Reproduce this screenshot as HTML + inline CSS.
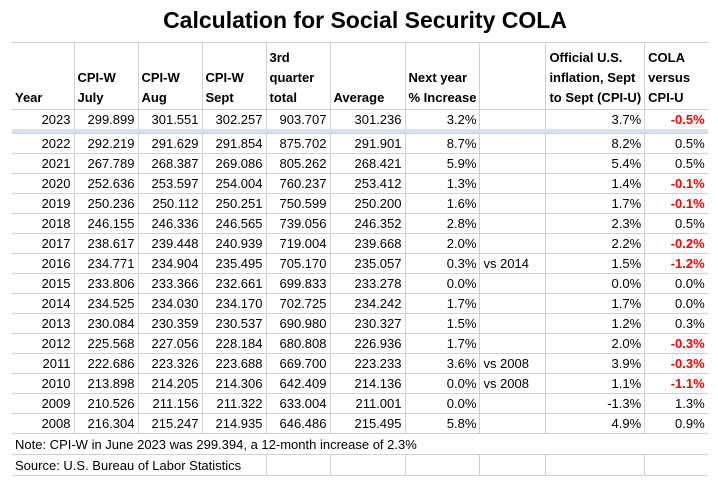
<!DOCTYPE html>
<html><head><meta charset="utf-8"><style>
body{margin:0;width:718px;height:482px;background:#fff;font-family:"Liberation Sans",Arial,sans-serif;overflow:hidden;position:relative}
h1{position:absolute;left:0;width:730px;top:7px;margin:0;text-align:center;font-size:23px;font-weight:bold;color:#000}
table{position:absolute;left:12px;top:42px;border-collapse:collapse;table-layout:fixed;font-size:13px;color:#000}
td{border-top:1px solid #d0d0d0;border-left:1px solid #d0d0d0;padding:0 3px;height:19px;text-align:right;white-space:nowrap;overflow:visible}
td:first-child{border-left:none}
tr.h td{height:65px;vertical-align:bottom;text-align:left;font-weight:bold;line-height:20px;padding-bottom:1px}
tr.band td{height:4px;padding:0;background:#d9e1f2;border:none}
td.r{color:#f00;font-weight:bold}
td.l{text-align:left}
tr.last td{border-bottom:1px solid #d0d0d0}
</style></head><body>
<h1>Calculation for Social Security COLA</h1>
<table>
<colgroup><col style="width:62px"><col style="width:64px"><col style="width:64px"><col style="width:64px"><col style="width:64px"><col style="width:75px"><col style="width:74px"><col style="width:66px"><col style="width:97px"><col style="width:63px"></colgroup>
<tr class="h"><td>Year</td><td>CPI-W<br>July</td><td>CPI-W<br>Aug</td><td>CPI-W<br>Sept</td><td>3rd<br>quarter<br>total</td><td>Average</td><td>Next year<br>% Increase</td><td></td><td>Official U.S.<br>inflation, Sept<br>to Sept (CPI-U)</td><td>COLA<br>versus<br>CPI-U</td></tr>
<tr><td>2023</td><td>299.899</td><td>301.551</td><td>302.257</td><td>903.707</td><td>301.236</td><td>3.2%</td><td></td><td>3.7%</td><td class="r">-0.5%</td></tr>
<tr class="band"><td colspan="10"></td></tr>
<tr><td>2022</td><td>292.219</td><td>291.629</td><td>291.854</td><td>875.702</td><td>291.901</td><td>8.7%</td><td></td><td>8.2%</td><td>0.5%</td></tr>
<tr><td>2021</td><td>267.789</td><td>268.387</td><td>269.086</td><td>805.262</td><td>268.421</td><td>5.9%</td><td></td><td>5.4%</td><td>0.5%</td></tr>
<tr><td>2020</td><td>252.636</td><td>253.597</td><td>254.004</td><td>760.237</td><td>253.412</td><td>1.3%</td><td></td><td>1.4%</td><td class="r">-0.1%</td></tr>
<tr><td>2019</td><td>250.236</td><td>250.112</td><td>250.251</td><td>750.599</td><td>250.200</td><td>1.6%</td><td></td><td>1.7%</td><td class="r">-0.1%</td></tr>
<tr><td>2018</td><td>246.155</td><td>246.336</td><td>246.565</td><td>739.056</td><td>246.352</td><td>2.8%</td><td></td><td>2.3%</td><td>0.5%</td></tr>
<tr><td>2017</td><td>238.617</td><td>239.448</td><td>240.939</td><td>719.004</td><td>239.668</td><td>2.0%</td><td></td><td>2.2%</td><td class="r">-0.2%</td></tr>
<tr><td>2016</td><td>234.771</td><td>234.904</td><td>235.495</td><td>705.170</td><td>235.057</td><td>0.3%</td><td class="l">vs 2014</td><td>1.5%</td><td class="r">-1.2%</td></tr>
<tr><td>2015</td><td>233.806</td><td>233.366</td><td>232.661</td><td>699.833</td><td>233.278</td><td>0.0%</td><td></td><td>0.0%</td><td>0.0%</td></tr>
<tr><td>2014</td><td>234.525</td><td>234.030</td><td>234.170</td><td>702.725</td><td>234.242</td><td>1.7%</td><td></td><td>1.7%</td><td>0.0%</td></tr>
<tr><td>2013</td><td>230.084</td><td>230.359</td><td>230.537</td><td>690.980</td><td>230.327</td><td>1.5%</td><td></td><td>1.2%</td><td>0.3%</td></tr>
<tr><td>2012</td><td>225.568</td><td>227.056</td><td>228.184</td><td>680.808</td><td>226.936</td><td>1.7%</td><td></td><td>2.0%</td><td class="r">-0.3%</td></tr>
<tr><td>2011</td><td>222.686</td><td>223.326</td><td>223.688</td><td>669.700</td><td>223.233</td><td>3.6%</td><td class="l">vs 2008</td><td>3.9%</td><td class="r">-0.3%</td></tr>
<tr><td>2010</td><td>213.898</td><td>214.205</td><td>214.306</td><td>642.409</td><td>214.136</td><td>0.0%</td><td class="l">vs 2008</td><td>1.1%</td><td class="r">-1.1%</td></tr>
<tr><td>2009</td><td>210.526</td><td>211.156</td><td>211.322</td><td>633.004</td><td>211.001</td><td>0.0%</td><td></td><td>-1.3%</td><td>1.3%</td></tr>
<tr><td>2008</td><td>216.304</td><td>215.247</td><td>214.935</td><td>646.486</td><td>215.495</td><td>5.8%</td><td></td><td>4.9%</td><td>0.9%</td></tr>
<tr><td colspan="10" class="l" style="height:20px">Note: CPI-W in June 2023 was 299.394, a 12-month increase of 2.3%</td></tr>
<tr class="last"><td colspan="4" class="l" style="height:20px">Source: U.S. Bureau of Labor Statistics</td><td></td><td></td><td></td><td></td><td></td><td></td></tr>
</table>
</body></html>
